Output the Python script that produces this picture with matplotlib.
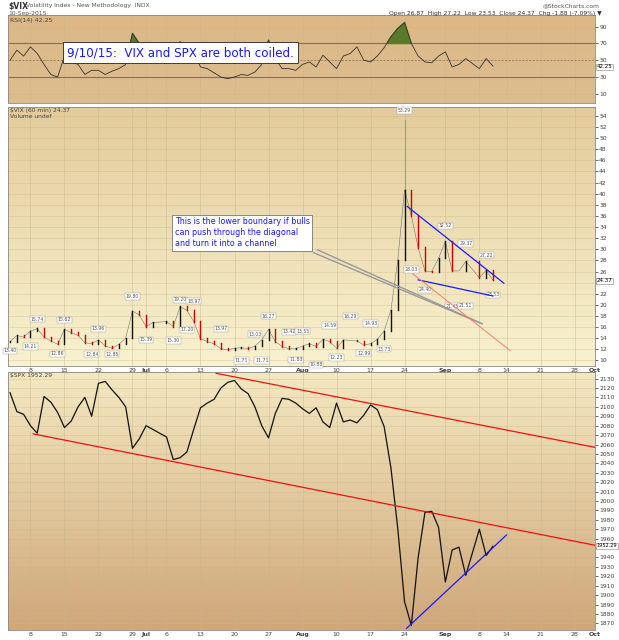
import numpy as np
import pandas as pd
import matplotlib
matplotlib.use("Agg")
import matplotlib.pyplot as plt
from matplotlib.colors import LinearSegmentedColormap

# ---------------- data ----------------
dates = pd.bdate_range("2015-06-03", "2015-09-10")
dates = dates[~dates.isin(pd.to_datetime(["2015-07-03", "2015-09-07"]))]

vix_close = [13.4, 14.5, 14.2,
             15.3, 15.7, 14.2, 13.5, 12.9,
             15.6, 15.0, 14.5, 13.2, 13.0,
             13.7, 12.6, 12.2, 12.9, 14.0,
             18.9, 18.2, 16.1, 16.8,
             17.0, 16.1, 19.7, 19.0, 17.0,
             13.9, 13.4, 13.0, 12.1, 11.9,
             12.2, 12.3, 12.1, 12.6, 13.7,
             15.6, 13.4, 12.5, 12.1, 12.1,
             12.6, 13.0, 12.5, 13.8, 13.4,
             12.2, 13.7, 13.6, 13.5, 12.8,
             13.0, 13.8, 15.3, 19.1, 28.0,
             40.7, 36.0, 30.3, 26.1, 26.0,
             28.4, 31.4, 26.1, 26.1, 27.8,
             24.9, 26.2, 24.4]

spx_close = [2115, 2095, 2092,
             2080, 2072, 2111, 2105, 2094,
             2078, 2085, 2100, 2110, 2090,
             2125, 2127, 2118, 2110, 2100,
             2056, 2066, 2080, 2076,
             2068, 2044, 2046, 2052, 2076,
             2099, 2104, 2108, 2120, 2126,
             2128, 2119, 2114, 2100, 2080,
             2067, 2093, 2109, 2108, 2104,
             2098, 2093, 2099, 2084, 2078,
             2104, 2084, 2086, 2083, 2091,
             2102, 2097, 2079, 2035, 1971,
             1893, 1868, 1940, 1988, 1989,
             1972, 1914, 1948, 1951, 1921,
             1970, 1942, 1952]

rsi_vals = [50, 62, 55,
            66, 58, 45, 33, 30,
            55, 48, 45, 33, 38,
            38, 33, 37, 40, 45,
            82, 70, 55, 58,
            55, 50, 72, 65, 60,
            42, 40, 35, 30, 28,
            30, 33, 32, 36, 45,
            74, 52, 40, 40, 38,
            45, 48, 42, 56, 48,
            40, 55, 58, 66, 50,
            48, 55, 65, 78, 88,
            95, 70, 55, 48, 47,
            55, 60, 42, 45, 52,
            40, 52, 43]

# labelled swing points on VIX (date, value)
vix_label_dates = ["2015-06-03", "2015-06-09", "2015-06-08", "2015-06-12", "2015-06-15",
                   "2015-06-19", "2015-06-22", "2015-06-24", "2015-06-29", "2015-07-01",
                   "2015-07-08", "2015-07-07", "2015-07-09", "2015-07-10", "2015-07-16",
                   "2015-07-21", "2015-07-23", "2015-07-24", "2015-07-27", "2015-07-30",
                   "2015-08-03", "2015-07-31", "2015-08-05", "2015-08-07", "2015-08-10",
                   "2015-08-12", "2015-08-14", "2015-08-17", "2015-08-19", "2015-08-24",
                   "2015-08-25", "2015-08-27", "2015-09-01", "2015-09-02", "2015-09-04",
                   "2015-09-04", "2015-09-09", "2015-09-10"]
vix_label_vals = [13.40, 15.74, 14.21, 12.86, 15.62, 12.84, 13.96, 12.85, 19.80, 15.39,
                  19.20, 15.30, 17.20, 18.97, 13.97, 11.71, 13.03, 11.71, 16.27, 13.42,
                  13.55, 11.83, 10.88, 14.59, 12.23, 16.29, 12.99, 14.93, 13.73, 53.29,
                  28.03, 24.40, 32.52, 21.45, 29.37, 21.51, 27.22, 23.53]
vix_label_up = [False, True, False, False, True, False, True, False, True, False,
                True, False, False, True, True, False, True, False, True, True,
                True, False, False, True, False, True, False, True, False, True,
                False, False, True, False, True, False, True, False]

rsi_ticks = [10, 30, 50, 70, 90]
vix_ticks = list(range(10, 56, 2))
spx_ticks = list(range(1870, 2140, 10))
month_ticks = {"2015-06-08": "8", "2015-06-15": "15", "2015-06-22": "22", "2015-06-29": "29",
               "2015-07-01": "Jul", "2015-07-06": "6", "2015-07-13": "13", "2015-07-20": "20",
               "2015-07-27": "27", "2015-08-03": "Aug", "2015-08-10": "10", "2015-08-17": "17",
               "2015-08-24": "24", "2015-09-01": "Sep", "2015-09-08": "8", "2015-09-14": "14",
               "2015-09-21": "21", "2015-09-28": "28", "2015-10-01": "Oct"}

# ---------------- helpers ----------------
base = pd.Timestamp("2015-06-08")
def xpos(d):
    d = pd.Timestamp(d)
    w = (d - base).days // 7
    return w * 5 + d.weekday()

X = np.array([xpos(d) for d in dates])
XL = (-3.3, 83)

fig = plt.figure(figsize=(6.19, 6.4), dpi=100)
fig.patch.set_facecolor("white")
L, W = 8 / 619, 587 / 619
ax_r = fig.add_axes([L, 1 - 103 / 640, W, 88 / 640])
ax_v = fig.add_axes([L, 1 - 366 / 640, W, 259 / 640])
ax_s = fig.add_axes([L, 1 - 630 / 640, W, 258 / 640])

def grad(ax, top, bot):
    cm = LinearSegmentedColormap.from_list("g", [bot, top])
    g = np.linspace(0, 1, 100).reshape(-1, 1)
    ax.imshow(g, aspect="auto", cmap=cm, origin="lower",
              extent=[*ax.get_xlim(), *ax.get_ylim()], zorder=0)

def style(ax, ticks, ylim, labels_bottom, hide=()):
    ax.set_xlim(*XL)
    ax.set_ylim(*ylim)
    ax.yaxis.tick_right()
    ax.set_yticks(ticks)
    ax.set_yticklabels(["" if t in hide else str(t) for t in ticks], fontsize=4.3, color="#444")
    ax.tick_params(axis="y", length=2, pad=1, width=0.4)
    tx = [xpos(d) for d in month_ticks]
    ax.set_xticks(tx)
    if labels_bottom:
        ax.set_xticklabels(list(month_ticks.values()), fontsize=4.5, color="#444")
        for lab in ax.get_xticklabels():
            if lab.get_text() in ("Jul", "Aug", "Sep", "Oct"):
                lab.set_fontweight("bold")
    else:
        ax.set_xticklabels([])
    ax.tick_params(axis="x", length=0, pad=1.5)
    for t in tx:
        ax.axvline(t, color="#c9b58a", lw=0.5, alpha=0.6, zorder=1)
    for t in ticks:
        ax.axhline(t, color="#c9b58a", lw=0.4, alpha=0.6, zorder=1)
    for s in ax.spines.values():
        s.set_color("#888")
        s.set_linewidth(0.6)

# ---- RSI ----
style(ax_r, rsi_ticks, (-1, 104), False)
grad(ax_r, "#dcb887", "#ddbd8f")
ax_r.axhline(70, color="#8a7050", lw=0.8, zorder=2)
ax_r.axhline(30, color="#8a7050", lw=0.8, zorder=2)
ax_r.axhline(50, color="#8a7050", lw=0.5, ls=(0, (3, 2)), zorder=2)
rv = np.array(rsi_vals, float)
ax_r.fill_between(X, 70, rv, where=rv > 70, interpolate=True, color="#5a7a2a", zorder=3)
ax_r.plot(X, rv, color="#333", lw=0.6, zorder=4)
ax_r.text(0.003, 0.97, "RSI(14) 42.25", transform=ax_r.transAxes, fontsize=4.5,
          va="top", color="#444")
ax_r.text(1.003, (42.25 + 1) / 105, "42.25", transform=ax_r.transAxes, fontsize=4, va="center",
          bbox=dict(boxstyle="square,pad=0.1", fc="white", ec="#888", lw=0.4), clip_on=False)
ax_r.text(5.4, 59, "9/10/15:  VIX and SPX are both coiled.", fontsize=8.6,
          color="#1a1aff", va="center", zorder=6,
          bbox=dict(boxstyle="square,pad=0.35", fc="white", ec="#222", lw=0.6))

# ---- VIX ----
style(ax_v, vix_ticks, (9, 55.6), True, hide=(24,))
grad(ax_v, "#e3cb9b", "#f8f2cf")
vc = np.array(vix_close)
prev = np.r_[vc[0], vc[:-1]]
for x, a, b in zip(X, prev, vc):
    ax_v.plot([x, x], [min(a, b), max(a, b) + 0.05], color="#c00" if b < a else "#111",
              lw=1.0, zorder=4)
ax_v.plot(X, vc, color="#444", lw=0.4, alpha=0.7, zorder=3)
ax_v.plot([xpos("2015-08-24")] * 2, [vc[X.tolist().index(xpos("2015-08-24"))], 53.29],
          color="#999", lw=0.8, zorder=3)
for d, v, up in zip(vix_label_dates, vix_label_vals, vix_label_up):
    ax_v.annotate(f"{v:.2f}", (xpos(d), v), xytext=(0, 5 if up else -5),
                  textcoords="offset points", ha="center", va="bottom" if up else "top",
                  fontsize=3.3, color="#555", zorder=5,
                  bbox=dict(boxstyle="square,pad=0.15", fc="white", ec="#999", lw=0.3))
ax_v.text(0.003, 0.995, "$VIX (60 min) 24.37\nVolume undef", transform=ax_v.transAxes,
          fontsize=4.3, va="top", color="#444", linespacing=1.1)
ax_v.text(1.003, (24.37 - 9) / 46.6, "24.37", transform=ax_v.transAxes, fontsize=4, va="center",
          bbox=dict(boxstyle="square,pad=0.1", fc="white", ec="#888", lw=0.4), clip_on=False)
# trend lines
ax_v.plot([55.4, 69.6], [37.7, 23.9], color="#1a1aff", lw=0.9, zorder=6)
ax_v.plot([57.0, 68.0], [24.5, 21.6], color="#1a1aff", lw=0.9, zorder=6)
ax_v.plot([56.2, 70.5], [25.6, 11.8], color="#f08070", lw=0.7, zorder=6)
for (x0, y0) in [(42.2, 29.9), (41.6, 29.4)]:
    ax_v.plot([x0, 66.4], [y0, 16.6], color="#999", lw=1.0, zorder=5)
ax_v.text(21.2, 33.0,
          "This is the lower boundary if bulls\ncan push through the diagonal\nand turn it into a channel",
          fontsize=5.8, color="#1a1aff", va="center", zorder=7, linespacing=1.25,
          bbox=dict(boxstyle="square,pad=0.35", fc="white", ec="#777", lw=0.6))

# ---- SPX ----
style(ax_s, spx_ticks, (1863, 2137), True, hide=(1950,))
grad(ax_s, "#f3e8c0", "#cfa77a")
sc = np.array(spx_close)
ax_s.plot(X, sc, color="#111", lw=0.9, zorder=4)
ax_s.plot([27.3, 83], [2135.6, 2057], color="#f01010", lw=0.9, zorder=6)
ax_s.plot([0.4, 83], [2071.3, 1953], color="#f01010", lw=0.9, zorder=6)
ax_s.plot([55.3, 70.0], [1864.8, 1964], color="#1a1aff", lw=0.9, zorder=6)
ax_s.text(0.003, 0.995, "$SPX 1952.29", transform=ax_s.transAxes, fontsize=4.3,
          va="top", color="#444")
ax_s.text(1.003, (1952.29 - 1863) / 274, "1952.29", transform=ax_s.transAxes, fontsize=3.6,
          va="center", bbox=dict(boxstyle="square,pad=0.1", fc="white", ec="#888", lw=0.4),
          clip_on=False)

# ---- header ----
fig.text(8 / 619, 1 - 6 / 640, "$VIX", fontsize=5.5, fontweight="bold", va="center", color="#333")
fig.text(26 / 619, 1 - 6 / 640, "Volatility Index - New Methodology  INDX", fontsize=4.3,
         va="center", color="#555")
fig.text(8 / 619, 1 - 13 / 640, "10-Sep-2015", fontsize=4.3, va="center", color="#555")
fig.text(600 / 619, 1 - 6 / 640, "@StockCharts.com", fontsize=4.3, va="center", ha="right",
         color="#555")
fig.text(602 / 619, 1 - 13 / 640,
         "Open 26.87  High 27.22  Low 23.53  Close 24.37  Chg -1.88 (-7.09%) \u25bc",
         fontsize=4.3, va="center", ha="right", color="#333")

fig.savefig("out.png", dpi=100)
